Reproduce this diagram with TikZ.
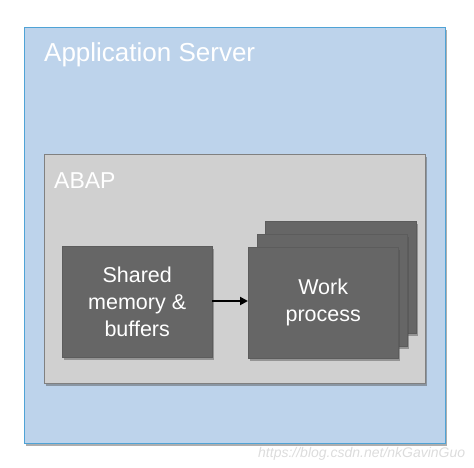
\documentclass[tikz,border=0pt]{standalone}
\usepackage{fontspec}
\setmainfont{Liberation Sans}
\usetikzlibrary{shadows,arrows.meta}
\definecolor{srvfill}{HTML}{BDD3EB}
\definecolor{srvline}{HTML}{4FA3D6}
\definecolor{abapfill}{HTML}{D0D0D0}
\definecolor{abapline}{HTML}{808080}
\definecolor{boxfill}{HTML}{666666}
\definecolor{wmark}{HTML}{DCDCDC}
\begin{document}
\begin{tikzpicture}[x=1pt,y=-1pt,
  shd/.style={drop shadow={shadow xshift=2pt,shadow yshift=-2.5pt,opacity=0.45,fill=black!70}},
  srv/.style={draw=srvline,line width=1pt,fill=srvfill,shd},
  abap/.style={draw=abapline,line width=0.8pt,fill=abapfill,shd},
  dbox/.style={draw=boxfill!90!black,line width=0.4pt,fill=boxfill,shd},
  lbl/.style={text=white,font=\fontsize{21.5}{27}\selectfont,align=center}]
\useasboundingbox (0,0) rectangle (474,467);
\draw[srv] (24,27) rectangle (445,443);
\node[anchor=base west,inner sep=0pt,text=white,font=\fontsize{26}{30}\selectfont] (t1) at (44,61) {Application Server};
\draw[abap] (44,154) rectangle (425,383);
\node[anchor=base west,inner sep=0pt,text=white,font=\fontsize{23}{28}\selectfont] (t2) at (54,188) {ABAP};
\draw[dbox] (265,221) rectangle (416,333);
\draw[dbox] (257,234) rectangle (407,346);
\node[dbox,minimum width=150pt,minimum height=111pt,inner sep=0pt,anchor=north west,lbl] (wp) at (248,247) {Work\\process};
\node[dbox,minimum width=150pt,minimum height=111pt,inner sep=0pt,anchor=north west,lbl] (sm) at (62,246) {Shared\\memory \&\\buffers};
\draw[-{Triangle[length=8pt,width=8pt]},line width=2.2pt] (sm.east|-0,301) -- (wp.west|-0,301);
\node[anchor=base west,inner sep=0pt,text=wmark,font=\fontsize{14}{16}\selectfont\itshape] (wm) at (258,457) {https://blog.csdn.net/nkGavinGuo};
\end{tikzpicture}
\end{document}
